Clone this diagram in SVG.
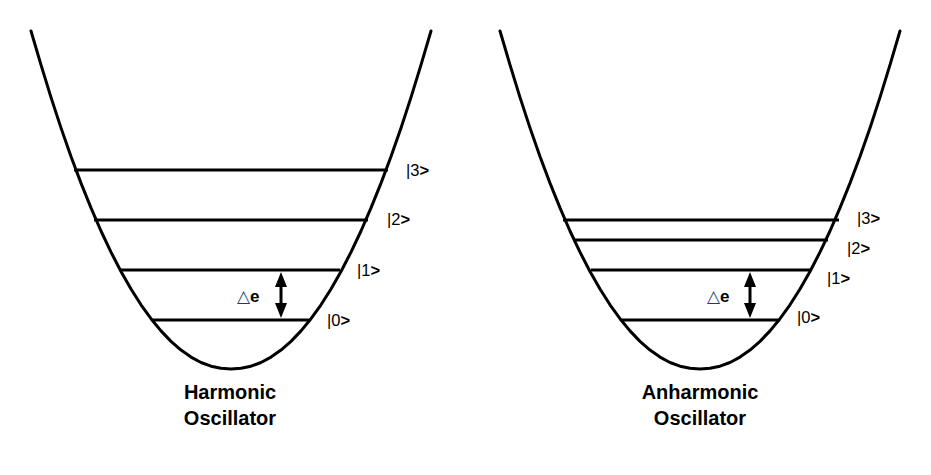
<svg xmlns="http://www.w3.org/2000/svg" xmlns:xlink="http://www.w3.org/1999/xlink" width="931" height="475" viewBox="0 0 931 475">
  <style>
    .well { fill: none; stroke: #000; stroke-width: 3; stroke-linejoin: round; stroke-linecap: round; }
    .level { stroke: #000; stroke-width: 3; }
    .ket { font-family: "Liberation Sans", Arial, sans-serif; font-size: 16.5px; fill: #000; }
    .gt { font-weight: bold; }
    .title { font-family: "Liberation Sans", Arial, sans-serif; font-size: 20px; font-weight: bold; fill: #000; text-anchor: middle; }
    .delta { font-family: "DejaVu Sans", sans-serif; font-size: 17px; fill: #1f3a73; }
    .e { font-family: "Liberation Sans", Arial, sans-serif; font-size: 17px; font-weight: bold; fill: #000; }
    .arrow { stroke: #000; stroke-width: 3; fill: none; }
  </style>
  <defs>
    <marker id="head" viewBox="0 0 15 12" refX="2" refY="6" markerWidth="15" markerHeight="12" markerUnits="userSpaceOnUse" orient="auto-start-reverse">
      <path d="M0,0 L15,6 L0,12 Z" fill="#000"/>
    </marker>
    <path id="well" d="M31,31 L41,64.9 L51,97.4 L61,127.9 L71,156.5 L81,183.1 L91,207.9 L101,231 L111,252.1 L121,271.5 L131,289 L141,304.8 L151,318.7 L161,330.9 L171,341.4 L181,350.1 L191,357.1 L201,362.5 L211,366.2 L221,368.3 L231,369 L241,368.3 L251,366.2 L261,362.5 L271,357.1 L281,350.1 L291,341.4 L301,330.9 L311,318.7 L321,304.8 L331,289 L341,271.5 L351,252.1 L361,231 L371,207.9 L381,183.1 L391,156.5 L401,127.9 L411,97.4 L421,64.9 L431,31"/>
  </defs>
  <rect width="931" height="475" fill="#fff"/>

  <g id="harmonic">
    <use xlink:href="#well" href="#well" class="well"/>
    <line class="level" x1="74" y1="170" x2="388" y2="170"/>
    <line class="level" x1="94" y1="220" x2="368" y2="220"/>
    <line class="level" x1="121" y1="270" x2="340" y2="270"/>
    <line class="level" x1="152" y1="320" x2="310" y2="320"/>
    <text class="ket" x="406" y="176">|3<tspan class="gt">&gt;</tspan></text>
    <text class="ket" x="387" y="225">|2<tspan class="gt">&gt;</tspan></text>
    <text class="ket" x="357" y="276">|1<tspan class="gt">&gt;</tspan></text>
    <text class="ket" x="327" y="326">|0<tspan class="gt">&gt;</tspan></text>
    <text x="237" y="302"><tspan class="delta">△</tspan><tspan class="e">e</tspan></text>
    <text class="title" x="230" y="399">Harmonic</text>
    <text class="title" x="230" y="425">Oscillator</text>
  </g>

  <g id="anharmonic">
    <use xlink:href="#well" href="#well" class="well" x="469"/>
    <line class="level" x1="563" y1="220" x2="839" y2="220"/>
    <line class="level" x1="573" y1="240" x2="828" y2="240"/>
    <line class="level" x1="591" y1="270" x2="810" y2="270"/>
    <line class="level" x1="621" y1="320" x2="780" y2="320"/>
    <text class="ket" x="857" y="224">|3<tspan class="gt">&gt;</tspan></text>
    <text class="ket" x="847" y="254">|2<tspan class="gt">&gt;</tspan></text>
    <text class="ket" x="827" y="284">|1<tspan class="gt">&gt;</tspan></text>
    <text class="ket" x="797" y="323">|0<tspan class="gt">&gt;</tspan></text>
    <text x="707" y="302"><tspan class="delta">△</tspan><tspan class="e">e</tspan></text>
    <text class="title" x="700" y="399">Anharmonic</text>
    <text class="title" x="700" y="425">Oscillator</text>
  </g>

  <g id="connectors">
    <line class="arrow" x1="281" y1="285" x2="281" y2="305" marker-start="url(#head)" marker-end="url(#head)"/>
    <line class="arrow" x1="750" y1="285" x2="750" y2="305" marker-start="url(#head)" marker-end="url(#head)"/>
  </g>
</svg>
